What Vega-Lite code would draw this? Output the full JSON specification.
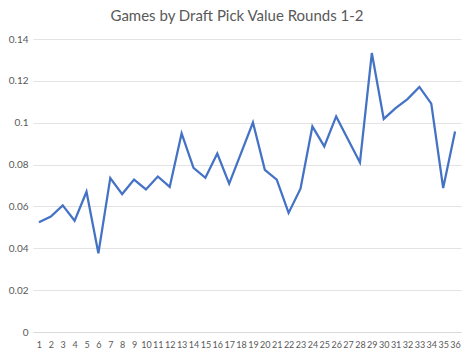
{
  "$schema": "https://vega.github.io/schema/vega-lite/v6.json",
  "width": 428,
  "height": 293,
  "autosize": {"type": "none"},
  "padding": {"left": 33, "top": 39, "right": 13, "bottom": 27},
  "background": "white",
  "title": {
    "text": "Games by Draft Pick Value Rounds 1-2",
    "font": "Lato",
    "fontSize": 15,
    "fontWeight": "normal",
    "color": "#595959",
    "anchor": "middle",
    "dx": -10,
    "offset": 10
  },
  "config": {
    "view": {"stroke": null},
    "axis": {"labelFont": "Lato", "labelColor": "#595959", "labelFontSize": 10, "ticks": false}
  },
  "data": {
    "values": [
      {"pick": 1, "value": 0.0524},
      {"pick": 2, "value": 0.0552},
      {"pick": 3, "value": 0.0605},
      {"pick": 4, "value": 0.0532},
      {"pick": 5, "value": 0.0670},
      {"pick": 6, "value": 0.0376},
      {"pick": 7, "value": 0.0736},
      {"pick": 8, "value": 0.0659},
      {"pick": 9, "value": 0.0728},
      {"pick": 10, "value": 0.0681},
      {"pick": 11, "value": 0.0743},
      {"pick": 12, "value": 0.0693},
      {"pick": 13, "value": 0.0949},
      {"pick": 14, "value": 0.0784},
      {"pick": 15, "value": 0.0737},
      {"pick": 16, "value": 0.0853},
      {"pick": 17, "value": 0.0709},
      {"pick": 18, "value": 0.0855},
      {"pick": 19, "value": 0.1001},
      {"pick": 20, "value": 0.0775},
      {"pick": 21, "value": 0.0728},
      {"pick": 22, "value": 0.0569},
      {"pick": 23, "value": 0.0685},
      {"pick": 24, "value": 0.0982},
      {"pick": 25, "value": 0.0887},
      {"pick": 26, "value": 0.1030},
      {"pick": 27, "value": 0.0920},
      {"pick": 28, "value": 0.0810},
      {"pick": 29, "value": 0.1333},
      {"pick": 30, "value": 0.1018},
      {"pick": 31, "value": 0.1070},
      {"pick": 32, "value": 0.1113},
      {"pick": 33, "value": 0.1171},
      {"pick": 34, "value": 0.1091},
      {"pick": 35, "value": 0.0688},
      {"pick": 36, "value": 0.0958}
    ]
  },
  "mark": {"type": "line", "color": "#4472C4", "strokeWidth": 2.25, "strokeJoin": "miter"},
  "encoding": {
    "x": {
      "field": "pick",
      "type": "ordinal",
      "scale": {"type": "point", "padding": 0.5},
      "axis": {
        "title": null,
        "labelAngle": 0,
        "labelFontSize": 9,
        "labelOverlap": false,
        "grid": false,
        "domain": true,
        "domainColor": "#d9d9d9",
        "labelPadding": 8
      }
    },
    "y": {
      "field": "value",
      "type": "quantitative",
      "scale": {"domain": [0, 0.14], "nice": false},
      "axis": {
        "title": null,
        "values": [0, 0.02, 0.04, 0.06, 0.08, 0.1, 0.12, 0.14],
        "format": "~g",
        "grid": true,
        "gridColor": "#e3e3e3",
        "domain": false,
        "labelPadding": 5
      }
    }
  }
}
